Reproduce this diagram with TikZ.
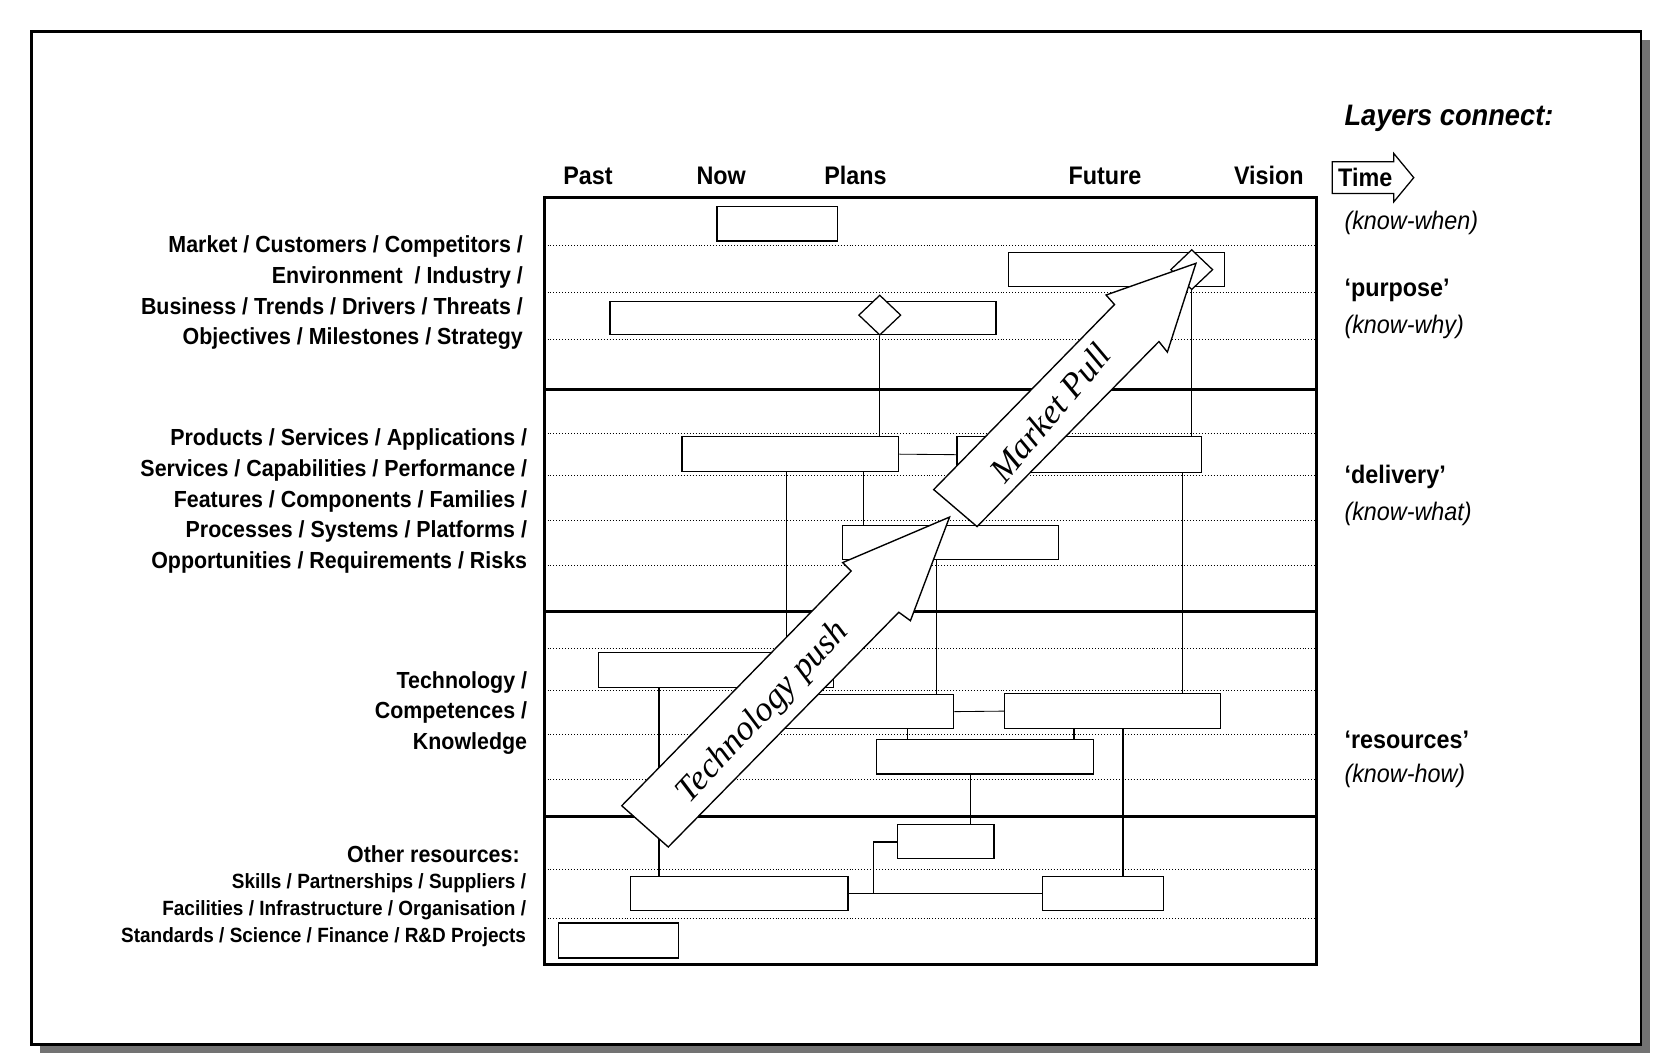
\documentclass[tikz,border=0pt]{standalone}
\usepackage{fontspec}
\setmainfont{Liberation Sans}
\newfontfamily\narrow[FakeStretch=0.92]{Liberation Sans}
\newfontfamily\serifit{Liberation Serif}
\usetikzlibrary{shapes.geometric,calc}
\begin{document}
\begin{tikzpicture}[x=1pt,y=-1pt,
  bx/.style={draw,fill=white,line width=1.2pt,inner sep=0pt},
  dia/.style={diamond,draw,fill=white,line width=1.2pt,inner sep=0pt,minimum width=40pt,minimum height=38pt},
  dots/.style={line width=0.8pt,dotted},
  lay/.style={line width=3pt},
  lbl/.style={font=\narrow\bfseries\fontsize{22}{29}\selectfont,align=right,anchor=east},
  lbls/.style={font=\narrow\bfseries\fontsize{19.5}{25.5}\selectfont,align=right,anchor=east},
  col/.style={font=\narrow\bfseries\fontsize{24}{28}\selectfont},
  rt/.style={anchor=west,font=\narrow\itshape\fontsize{24}{28}\selectfont},
  rtb/.style={anchor=west,font=\narrow\bfseries\fontsize{24}{28}\selectfont},
  con/.style={line width=0.8pt},
  conb/.style={line width=1.6pt},
  big/.style={draw,fill=white,line width=1.3pt,line join=miter}]
\useasboundingbox (0,0) rectangle (1568,997);
% frame with shadow
\fill[black!55] (38,38) rectangle (1560,996);
\draw[fill=white,line width=2.5pt] (30,30) rectangle (1552,988);
% grid
\foreach \y in {232,277,321,410,450,492,535,613,653,695,737,822,869}
  \draw[dots] (515,\y) -- (1245,\y);
\foreach \y in {368,578,772} \draw[lay] (515,\y) -- (1245,\y);
\draw[lay] (515,187) rectangle (1245,912);
% column labels
\node[col] (past) at (556,166) {Past};
\node[col] (now) at (682,166) {Now};
\node[col] (plans) at (809,166) {Plans};
\node[col] (future) at (1045,166) {Future};
\node[col] (vision) at (1200,166) {Vision};
\draw[line width=1.2pt,fill=white] (1260,153) -- (1318,153) -- (1318,145) -- (1337,168) -- (1318,191) -- (1318,183) -- (1260,183) -- cycle;
\node[col,anchor=west] (time) at (1262,168) {Time};
% left labels
\node[lbl] (l1) at (498,277) {Market / Customers / Competitors /\\Environment \ / Industry /\\Business / Trends / Drivers / Threats /\\Objectives / Milestones / Strategy};
\node[lbl] (l2) at (502,474) {Products / Services / Applications /\\Services / Capabilities / Performance /\\Features / Components / Families /\\Processes / Systems / Platforms /\\Opportunities / Requirements / Risks};
\node[lbl] (l3) at (502,674) {Technology /\\Competences /\\Knowledge};
\node[lbl] (l4) at (495,808) {Other resources:};
\node[lbls] (l5) at (501,861) {Skills / Partnerships / Suppliers /\\Facilities / Infrastructure / Organisation /\\Standards / Science / Finance / R\&D Projects};
% right labels
\node[anchor=west,font=\narrow\bfseries\itshape\fontsize{28}{32}\selectfont] (lc) at (1268,112) {Layers connect:};
\node[rt] (kwhen) at (1268,211) {(know-when)};
\node[rtb] (purp) at (1268,275) {‘purpose’};
\node[rt] (kwhy) at (1268,309) {(know-why)};
\node[rtb] (deli) at (1268,451) {‘delivery’};
\node[rt] (kwhat) at (1268,486) {(know-what)};
\node[rtb] (reso) at (1268,700) {‘resources’};
\node[rt] (khow) at (1268,734) {(know-how)};
% boxes
\node[bx,minimum width=114pt,minimum height=33pt] (b1) at (735,211.5) {};
\node[bx,minimum width=204pt,minimum height=32pt] (b2) at (1056,255) {};
\node[bx,minimum width=365pt,minimum height=31pt] (b3) at (759.5,300.5) {};
\node[dia] (d1) at (832,298) {};
\node[dia] (d2) at (1127,255) {};
\node[bx,minimum width=205pt,minimum height=33pt] (p1) at (747.5,429.5) {};
\node[bx,minimum width=231pt,minimum height=34pt] (p2) at (1020.5,430) {};
\node[bx,minimum width=204pt,minimum height=32pt] (p3) at (899,513) {};
\node[bx,minimum width=222pt,minimum height=33pt] (t1) at (677,633.5) {};
\node[bx,minimum width=202pt,minimum height=32pt] (t2) at (801,673) {};
\node[bx,minimum width=204pt,minimum height=33pt] (t3) at (1052,672.5) {};
\node[bx,minimum width=205pt,minimum height=33pt] (t4) at (931.5,715.5) {};
\node[bx,minimum width=91pt,minimum height=32pt] (r1) at (894.5,796) {};
\node[bx,minimum width=206pt,minimum height=32pt] (r2) at (699,845) {};
\node[bx,minimum width=114pt,minimum height=32pt] (r3) at (1043,845) {};
\node[bx,minimum width=114pt,minimum height=33pt] (r4) at (585,889.5) {};
% connectors
\draw[con] (d1.south) -- (d1.south |- p1.north);
\draw[con] (d2.south) -- (d2.south |- p2.north);
\draw[con] (p1.east) -- (p2.west);
\draw[con] (744,0 |- p1.south) -- (744,0 |- t2.north);
\draw[con] (817,0 |- p1.south) -- (817,0 |- p3.north);
\draw[con] (886,0 |- p3.south) -- (886,0 |- t2.north);
\draw[con] (1118,0 |- p2.south) -- (1118,0 |- t3.north);
\draw[con] (t2.east) -- (t3.west);
\draw[conb] (1016,0 |- t3.south) -- (1016,0 |- t4.north);
\draw[con] (858,0 |- t2.south) -- (858,0 |- t4.north);
\draw[conb] (623,0 |- t1.south) -- (623,0 |- r2.north);
\draw[con] (918,0 |- t4.south) -- (918,0 |- r1.north);
\draw[conb] (1062,0 |- t3.south) -- (1062,0 |- r3.north);
\coordinate (j) at (826,845);
\draw[conb] (r2.east) -- (j) |- (r1.west);
\draw[con] (j) -- (r3.west);
% big arrows
\draw[big] (588,762) -- (805,540) -- (797,532) -- (898,489) -- (861,587) -- (850,579) -- (632,801) -- cycle;
\node[rotate=47,font=\serifit\itshape\fontsize{33}{34}\selectfont] (tp) at (722,674) {Technology push};
\draw[big] (883,463) -- (1054,288) -- (1046,279) -- (1131,249) -- (1104,333) -- (1096,323) -- (924,498) -- cycle;
\node[rotate=50,font=\serifit\itshape\fontsize{33}{34}\selectfont] (mp) at (993,390) {Market Pull};
\end{tikzpicture}
\end{document}
